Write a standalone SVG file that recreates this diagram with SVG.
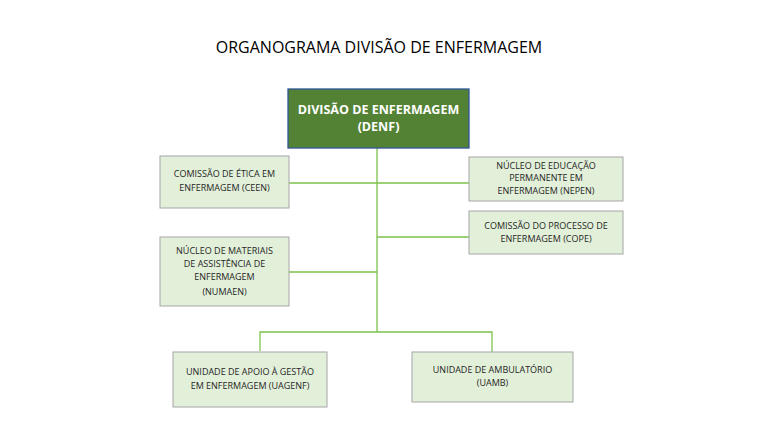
<svg xmlns="http://www.w3.org/2000/svg" width="768" height="433" viewBox="0 0 768 433">
<style>
text{font-family:"Open Sans","Liberation Sans",sans-serif;text-anchor:middle;fill:#262626}
.s{font-size:9px}
.b{fill:#e2efd9;stroke:#a6a6a6;stroke-width:1}
.c{stroke:#7dc24b;stroke-width:1.3;fill:none}
</style>
<rect width="768" height="433" fill="#fff"/>
<text x="379" y="53" font-size="16" style="fill:#000">ORGANOGRAMA DIVISÃO DE ENFERMAGEM</text>
<g id="connectors">
<path class="c" d="M377 148V332M289 183H469M377 237H469M289 272H377M260 351V332H492V352"/>
</g>
<g id="denf"><rect x="288" y="89" width="181" height="59" fill="#548235" stroke="#2f5597" stroke-width="1.3"/>
<text x="378.5" y="114" font-size="12.5" font-weight="bold" style="fill:#fff">DIVISÃO DE ENFERMAGEM</text>
<text x="378.5" y="131" font-size="12.5" font-weight="bold" style="fill:#fff">(DENF)</text></g>
<g id="ceen"><rect class="b" x="160" y="156" width="129" height="52"/>
<text class="s" x="224.5" y="177">COMISSÃO DE ÉTICA EM</text><text class="s" x="224.5" y="191">ENFERMAGEM (CEEN)</text></g>
<g id="nepen"><rect class="b" x="469" y="157" width="154" height="44"/>
<text class="s" x="546" y="169">NÚCLEO DE EDUCAÇÃO</text><text class="s" x="546" y="181">PERMANENTE EM</text><text class="s" x="546" y="194">ENFERMAGEM (NEPEN)</text></g>
<g id="cope"><rect class="b" x="469" y="211" width="154" height="43"/>
<text class="s" x="546" y="229">COMISSÃO DO PROCESSO DE</text><text class="s" x="546" y="242">ENFERMAGEM (COPE)</text></g>
<g id="numaen"><rect class="b" x="160" y="237" width="129" height="69"/>
<text class="s" x="224.5" y="254">NÚCLEO DE MATERIAIS</text><text class="s" x="224.5" y="267">DE ASSISTÊNCIA DE</text><text class="s" x="224.5" y="280">ENFERMAGEM</text><text class="s" x="224.5" y="295">(NUMAEN)</text></g>
<g id="uagenf"><rect class="b" x="173" y="352" width="154" height="55"/>
<text class="s" x="250" y="375">UNIDADE DE APOIO À GESTÃO</text><text class="s" x="250" y="389">EM ENFERMAGEM (UAGENF)</text></g>
<g id="uamb"><rect class="b" x="412" y="352" width="161" height="50"/>
<text class="s" x="492.5" y="373">UNIDADE DE AMBULATÓRIO</text><text class="s" x="492.5" y="386">(UAMB)</text></g>
</svg>
